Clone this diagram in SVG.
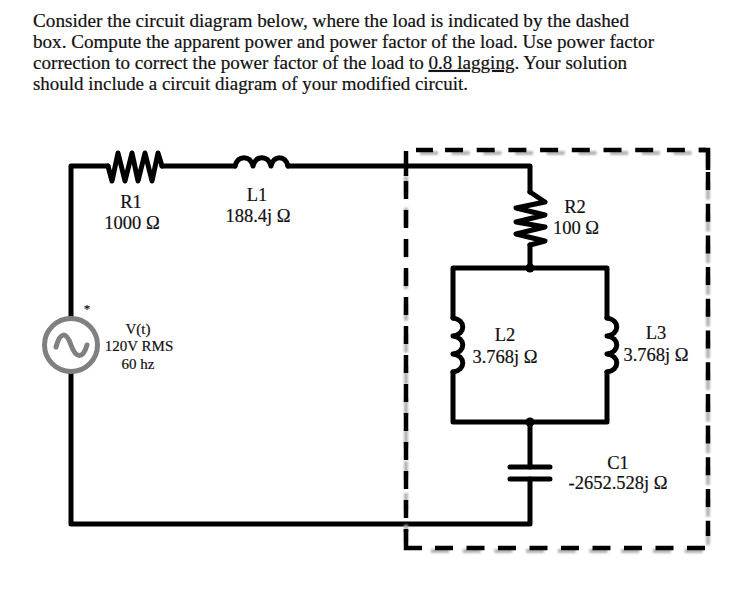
<svg xmlns="http://www.w3.org/2000/svg" width="740" height="590" viewBox="0 0 740 590">
<style>
text{font-family:"Liberation Serif","DejaVu Serif",serif;fill:#111;stroke:#111;stroke-width:.2}
.p{font-size:19.5px}
.l{font-size:18.5px;text-anchor:middle}
.s{font-size:15px;text-anchor:middle}
.w{fill:none;stroke:#000;stroke-width:5;stroke-linejoin:round;stroke-linecap:round}
.d{fill:none;stroke:#000;stroke-width:4.5;stroke-dasharray:18 13.7}
.g{fill:none;stroke:#b4b4b4;stroke-width:4;stroke-dasharray:18 13.7}
</style>
<defs><filter id="b" x="-5%" y="-5%" width="110%" height="110%"><feGaussianBlur stdDeviation="1"/></filter></defs>
<rect width="740" height="590" fill="#fff"/>
<g id="question">
<text class="p" x="33" y="27" textLength="596" lengthAdjust="spacingAndGlyphs">Consider the circuit diagram below, where the load is indicated by the dashed</text>
<text class="p" x="33" y="48" textLength="621" lengthAdjust="spacingAndGlyphs">box. Compute the apparent power and power factor of the load. Use power factor</text>
<text class="p" x="33" y="69" textLength="594" lengthAdjust="spacingAndGlyphs">correction to correct the power factor of the load to <tspan text-decoration="underline">0.8 lagging</tspan>. Your solution</text>
<text class="p" x="33" y="90" textLength="435" lengthAdjust="spacingAndGlyphs">should include a circuit diagram of your modified circuit.</text>
</g>
<g id="connectors">
<path class="w" d="M71 320V166H108M162 166H235M288 166H530V192M530 245V268M453 318V268H607V318M453 372V422H607V372M530 422V467M530 479V524H71V372"/>
<circle cx="530" cy="268" r="4.5"/>
<circle cx="530" cy="422" r="4.5"/>
</g>
<g id="load-box">
<g filter="url(#b)">
<path class="g" d="M420 153H706"/>
<path class="g" d="M406 176V546"/>
<path class="g" d="M431 551H708"/>
<path class="g" d="M708 150V545"/>
</g>
<path class="d" d="M406 176V151" style="stroke-dasharray:none"/>
<path class="d" d="M416 150H433M445 150H706"/>
<path class="d" d="M708 170V150H699" style="stroke-dasharray:none"/>
<path class="d" d="M708 172V536"/>
<path class="d" d="M406 181V532" style="stroke-dasharray:18 11"/>
<path class="d" d="M406 530V548H422" style="stroke-dasharray:none"/>
<path class="d" d="M435 548H708" style="stroke-dasharray:18 13.5"/>
</g>
<g id="R1">
<path class="w" d="M108 166L112 181L118 153L125 181L132 153L138 181L145 153L152 181L158 153L162 166"/>
<text class="l" x="131" y="208">R1</text><text class="l" x="132" y="229">1000 Ω</text>
</g>
<g id="L1">
<path class="w" d="M235 166C238 155 250 155 253 166C256 155 268 155 271 166C274 155 285 155 288 166"/>
<text class="l" x="257" y="201">L1</text><text class="l" x="258" y="222">188.4j Ω</text>
</g>
<g id="source">
<circle cx="71" cy="345" r="26.5" fill="#fff" stroke="#808080" stroke-width="5"/>
<path d="M56 347C60 332 66 331 71 345C76 359 83 359 87 345" fill="none" stroke="#808080" stroke-width="5" stroke-linecap="round"/>
<text x="87" y="313" style="font-size:13px;text-anchor:middle">*</text>
<text class="s" x="138" y="334">V(t)</text><text class="s" x="139" y="351">120V RMS</text><text class="s" x="138" y="369">60 hz</text>
</g>
<g id="R2">
<path class="w" d="M530 192L545 202L516 208L545 215L516 222L545 227L516 234L545 241L530 245"/>
<text class="l" x="575" y="213">R2</text><text class="l" x="576" y="234">100 Ω</text>
</g>
<g id="L2">
<path class="w" d="M453 318C466 320 466 334 453 336C466 338 466 352 453 354C466 356 466 370 453 372"/>
<text class="l" x="505" y="341">L2</text><text class="l" x="505" y="363">3.768j Ω</text>
</g>
<g id="L3">
<path class="w" d="M607 318C620 320 620 334 607 336C620 338 620 352 607 354C620 356 620 370 607 372"/>
<text class="l" x="656" y="339">L3</text><text class="l" x="656" y="361">3.768j Ω</text>
</g>
<g id="C1">
<path class="w" d="M510 467H550M510 479H550"/>
<text class="l" x="618" y="469">C1</text><text class="l" x="618" y="489">-2652.528j Ω</text>
</g>
</svg>
